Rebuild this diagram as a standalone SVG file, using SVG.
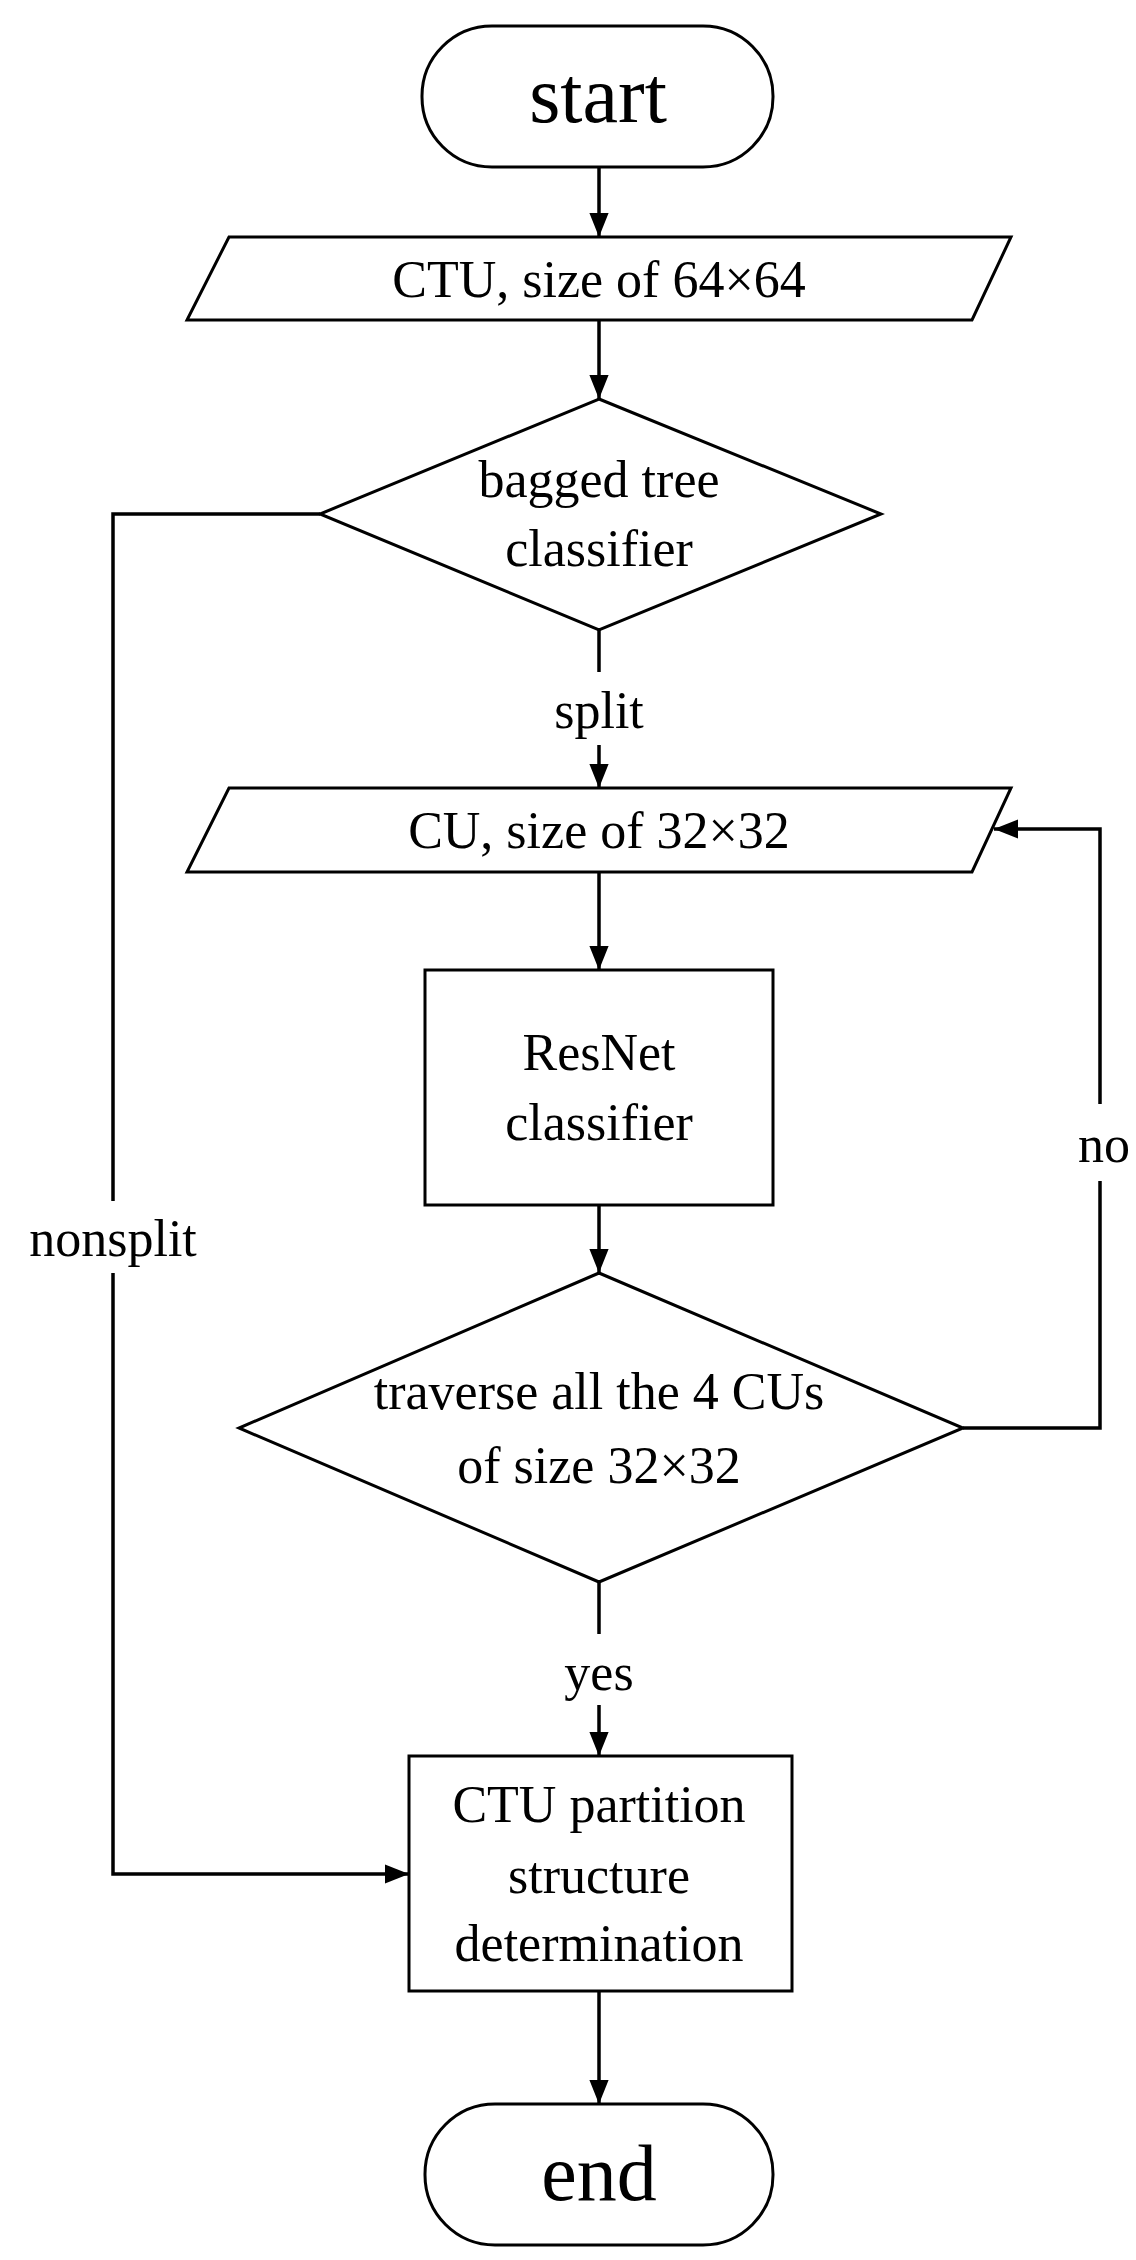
<svg xmlns="http://www.w3.org/2000/svg" width="1136" height="2260" viewBox="0 0 1136 2260">
<style>
.s{fill:#fff;stroke:#000;stroke-width:3}
.c{fill:none;stroke:#000;stroke-width:3.5}
text{font-family:"Liberation Serif","Noto Sans CJK SC",serif;font-size:52px;text-anchor:middle;fill:#000}
.big{font-size:80px}
</style>
<defs><marker id="a" markerWidth="10" markerHeight="10" refX="9" refY="5" orient="auto" markerUnits="userSpaceOnUse" viewBox="0 0 10 10"><path d="M0,0 L10,5 L0,10 z" fill="#000"/></marker>
<marker id="ah" viewBox="0 0 10 10" refX="10" refY="5" markerWidth="24" markerHeight="32" markerUnits="userSpaceOnUse" orient="auto"><path d="M0,1 L10,5 L0,9 z" fill="#000"/></marker></defs>
<rect width="1136" height="2260" fill="#fff"/>
<g id="start"><rect class="s" x="422" y="26" width="351" height="141" rx="70"/><text class="big" x="598" y="122">start</text></g>
<g id="ctu"><polygon class="s" points="229,237 1011,237 972,320 187,320"/><text x="599" y="297">CTU, size of 64×64</text></g>
<g id="d1"><polygon class="s" points="599,399 881,514 599,630 320,514"/><text x="599" y="497">bagged tree</text><text x="599" y="566">classifier</text></g>
<g id="cu"><polygon class="s" points="229,788 1011,788 972,872 187,872"/><text x="599" y="848">CU, size of 32×32</text></g>
<g id="resnet"><rect class="s" x="425" y="970" width="348" height="235"/><text x="599" y="1070">ResNet</text><text x="599" y="1140">classifier</text></g>
<g id="d2"><polygon class="s" points="599,1273 963,1428 599,1582 239,1428"/><text x="599" y="1409">traverse all the 4 CUs</text><text x="599" y="1483">of size 32×32</text></g>
<g id="final"><rect class="s" x="409" y="1756" width="383" height="235"/><text x="599" y="1822">CTU partition</text><text x="599" y="1893">structure</text><text x="599" y="1961">determination</text></g>
<g id="end"><rect class="s" x="425" y="2104" width="348" height="141" rx="70"/><text class="big" x="599" y="2200">end</text></g>
<g id="connectors">
<line class="c" x1="599" y1="167" x2="599" y2="237" marker-end="url(#ah)"/>
<line class="c" x1="599" y1="320" x2="599" y2="399" marker-end="url(#ah)"/>
<line class="c" x1="599" y1="630" x2="599" y2="672"/>
<line class="c" x1="599" y1="745" x2="599" y2="788" marker-end="url(#ah)"/>
<line class="c" x1="599" y1="872" x2="599" y2="970" marker-end="url(#ah)"/>
<line class="c" x1="599" y1="1205" x2="599" y2="1273" marker-end="url(#ah)"/>
<polyline class="c" points="963,1428 1100,1428 1100,1181"/>
<polyline class="c" points="1100,1104 1100,829 994,829" marker-end="url(#ah)"/>
<line class="c" x1="599" y1="1582" x2="599" y2="1634"/>
<line class="c" x1="599" y1="1705" x2="599" y2="1756" marker-end="url(#ah)"/>
<polyline class="c" points="320,514 113,514 113,1201"/>
<polyline class="c" points="113,1273 113,1874 409,1874" marker-end="url(#ah)"/>
<line class="c" x1="599" y1="1991" x2="599" y2="2104" marker-end="url(#ah)"/>
<text x="599" y="728">split</text>
<text x="1104" y="1162">no</text>
<text x="113" y="1256">nonsplit</text>
<text x="599" y="1690">yes</text>
</g>
</svg>
